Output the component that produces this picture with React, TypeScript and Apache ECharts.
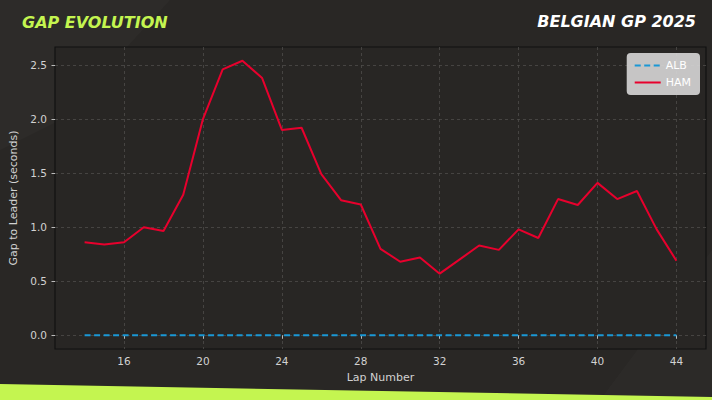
import React, { useEffect, useRef } from "react";
import * as echarts from "echarts";

const laps = [14, 15, 16, 17, 18, 19, 20, 21, 22, 23, 24, 25, 26, 27, 28, 29, 30, 31, 32, 33, 34, 35, 36, 37, 38, 39, 40, 41, 42, 43, 44];
const hamGap = [0.86, 0.84, 0.86, 1.0, 0.965, 1.3, 2.0, 2.46, 2.54, 2.38, 1.9, 1.92, 1.49, 1.25, 1.21, 0.8, 0.68, 0.72, 0.57, 0.7, 0.83, 0.79, 0.98, 0.9, 1.26, 1.205, 1.41, 1.26, 1.335, 0.98, 0.69];
const albGap = [0, 0, 0, 0, 0, 0, 0, 0, 0, 0, 0, 0, 0, 0, 0, 0, 0, 0, 0, 0, 0, 0, 0, 0, 0, 0, 0, 0, 0, 0, 0];
const xTicks = [16, 20, 24, 28, 32, 36, 40, 44];
const yTicks = [0, 0.5, 1.0, 1.5, 2.0, 2.5];

export default function App() {
  const ref = useRef<HTMLDivElement>(null);
  useEffect(() => {
    if (!ref.current) return;
    const chart = echarts.init(ref.current, null, { renderer: "svg" });
    const tickFont = { color: "#d2d2d2", fontSize: 10.5, fontFamily: "DejaVu Sans" };
    chart.setOption({
      animation: false,
      backgroundColor: "#292725",
      graphic: [
        {
          type: "polygon",
          shape: { points: [[0, 0], [170, 0], [60, 120], [0, 150]] },
          style: { fill: "rgba(255,255,255,0.018)" },
          silent: true,
          z: -10,
        },
        {
          type: "polygon",
          shape: { points: [[600, 400], [712, 250], [712, 400]] },
          style: { fill: "rgba(255,255,255,0.015)" },
          silent: true,
          z: -10,
        },
        {
          type: "polygon",
          shape: { points: [[0, 384], [712, 397], [712, 400], [0, 400]] },
          style: { fill: "#c4f550" },
          silent: true,
        },
        {
          type: "text",
          left: 22,
          top: 14,
          style: {
            text: "GAP EVOLUTION",
            fill: "#c4f550",
            font: "italic bold 16px 'DejaVu Sans'",
          },
        },
        {
          type: "text",
          right: 16,
          top: 13,
          style: {
            text: "BELGIAN GP 2025",
            fill: "#ffffff",
            font: "italic bold 16px 'DejaVu Sans'",
          },
        },
      ],
      legend: {
        right: 12,
        top: 53,
        orient: "vertical",
        itemWidth: 26,
        itemHeight: 12,
        itemGap: 6,
        padding: [7, 9, 7, 7],
        backgroundColor: "rgba(215,215,215,0.9)",
        borderRadius: 4,
        itemStyle: { opacity: 0 },
        textStyle: { color: "#ffffff", fontSize: 11, fontFamily: "DejaVu Sans" },
        data: ["ALB", "HAM"],
      },
      grid: {
        left: 51,
        top: 47,
        right: 6,
        bottom: 51,
        show: true,
        backgroundColor: "#282624",
        borderColor: "#111111",
        borderWidth: 1.2,
        containLabel: false,
      },
      xAxis: {
        type: "value",
        min: 12.5,
        max: 45.5,
        name: "Lap Number",
        nameLocation: "middle",
        nameGap: 23,
        nameTextStyle: { color: "#d2d2d2", fontSize: 11, fontFamily: "DejaVu Sans" },
        axisLine: { show: false },
        axisTick: { show: true, length: 3.5, lineStyle: { color: "#bbbbbb" }, customValues: xTicks },
        axisLabel: { ...tickFont, margin: 6, customValues: xTicks },
        splitLine: { show: true, lineStyle: { color: "#4e4c4a", type: [3, 3], width: 0.8 } },
      },
      yAxis: {
        type: "value",
        min: -0.127,
        max: 2.667,
        name: "Gap to Leader (seconds)",
        nameLocation: "middle",
        nameGap: 36,
        nameTextStyle: { color: "#d2d2d2", fontSize: 11, fontFamily: "DejaVu Sans" },
        axisLine: { show: false },
        axisTick: { show: true, length: 3.5, lineStyle: { color: "#bbbbbb" }, customValues: yTicks },
        axisLabel: { ...tickFont, margin: 8, customValues: yTicks, formatter: (v: number) => v.toFixed(1) },
        splitLine: { show: true, lineStyle: { color: "#4e4c4a", type: [3, 3], width: 0.8 } },
      },
      series: [
        {
          name: "ALB",
          type: "line",
          data: laps.map((l, i) => [l, albGap[i]]),
          symbol: "none",
          lineStyle: { color: "#1a98d5", width: 2, type: [6, 3.5] },
          itemStyle: { color: "#1a98d5" },
          z: 3,
        },
        {
          name: "HAM",
          type: "line",
          data: laps.map((l, i) => [l, hamGap[i]]),
          symbol: "none",
          lineStyle: { color: "#e8002d", width: 2 },
          itemStyle: { color: "#e8002d" },
          z: 2,
        },
      ],
    });
    return () => chart.dispose();
  }, []);
  return (
    <div
      ref={ref}
      style={{ position: "fixed", left: 0, top: 0, width: 712, height: 400 }}
    />
  );
}
